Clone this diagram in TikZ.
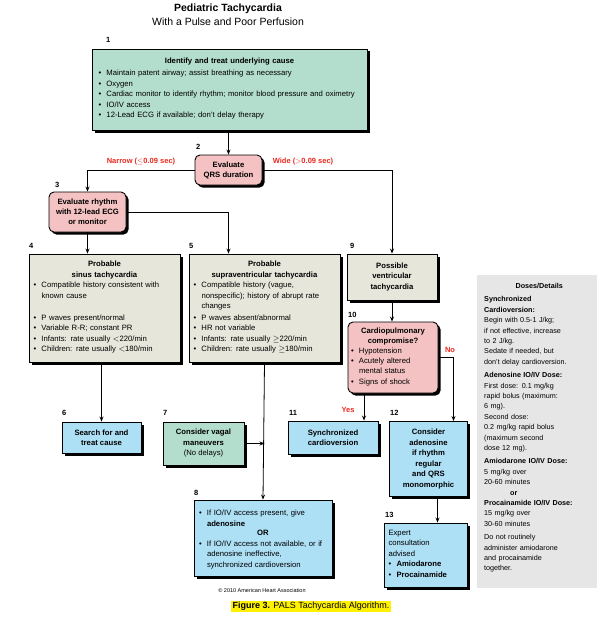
\documentclass[tikz,border=0pt]{standalone}
\usepackage{fontspec}
\setmainfont{Liberation Sans}
\usetikzlibrary{shadows,arrows.meta}
\definecolor{grn}{RGB}{179,221,204}
\definecolor{pnk}{RGB}{244,194,194}
\definecolor{bei}{RGB}{230,230,218}
\definecolor{blu}{RGB}{173,223,245}
\definecolor{gry}{RGB}{230,230,230}
\definecolor{red1}{RGB}{235,40,30}
\newcommand{\bi}[1]{\par\noindent\makebox[8pt][l]{\textbullet}\parbox[t]{\dimexpr\linewidth-8pt\relax}{\raggedright #1\strut}\par}
\begin{document}
\begin{tikzpicture}[x=1pt,y=-1pt,
 box/.style={draw=black,line width=0.9pt,align=center,inner sep=3pt,
   font=\fontsize{7.7}{10.5}\selectfont,
   general shadow={fill=black,shadow xshift=2.5pt,shadow yshift=-2.5pt}},
 rbox/.style={box,rounded corners=5pt},
 num/.style={font=\fontsize{7.5}{9}\selectfont\bfseries,anchor=west,inner sep=0},
 lab/.style={font=\fontsize{7.5}{9}\selectfont\bfseries,text=red1,inner sep=0},
 arr/.style={line width=0.8pt,-{Stealth[length=5pt,width=4pt]}}]
\useasboundingbox (0,0) rectangle (607,618);
\node[font=\fontsize{10.5}{12}\selectfont\bfseries] (t1) at (228,9) {Pediatric Tachycardia};
\node[font=\fontsize{10.5}{12}\selectfont] (t2) at (228,22) {With a Pulse and Poor Perfusion};

\node[num] (n1) at (106,40) {1};
\node[box,fill=grn,minimum width=275,minimum height=81,text width=262,align=left] (b1) at (229.5,89.5)
 {{\centering\textbf{Identify and treat underlying cause}\par}\vspace{2pt}
 \bi{Maintain patent airway; assist breathing as necessary}
 \bi{Oxygen}
 \bi{Cardiac monitor to identify rhythm; monitor blood pressure and oximetry}
 \bi{IO/IV access}
 \bi{12-Lead ECG if available; don't delay therapy}};

\node[num] (n2) at (196,147) {2};
\node[rbox,fill=pnk,minimum width=67,minimum height=30,font=\fontsize{7.7}{10}\selectfont\bfseries] (b2) at (228.5,170) {Evaluate\\QRS duration};
\node[lab] (l1) at (141,162) {Narrow ($\leq$0.09 sec)};
\node[lab] (l2) at (303,162) {Wide ($>$0.09 sec)};

\node[num] (n3) at (55,185) {3};
\node[rbox,fill=pnk,minimum width=77,minimum height=40,font=\fontsize{7.7}{10}\selectfont\bfseries] (b3) at (87.5,212) {Evaluate rhythm\\with 12-lead ECG\\or monitor};

\node[num] (n4) at (29,246) {4};
\node[box,fill=bei,minimum width=151,minimum height=108,text width=142,align=left] (b4) at (104.5,308)
 {{\centering\textbf{Probable\\sinus tachycardia}\par}
 \bi{Compatible history consistent with known cause}\vspace{10.5pt}
 \bi{P waves present/normal}
 \bi{Variable R-R; constant PR}
 \bi{Infants: rate usually $<$220/min}
 \bi{Children: rate usually $<$180/min}};

\node[num] (n5) at (189,246) {5};
\node[box,fill=bei,minimum width=151,minimum height=108,text width=142,align=left] (b5) at (264.5,308)
 {{\centering\textbf{Probable\\supraventricular tachycardia}\par}
 \bi{Compatible history (vague, nonspecific); history of abrupt rate changes}
 \bi{P waves absent/abnormal}
 \bi{HR not variable}
 \bi{Infants: rate usually $\geq$220/min}
 \bi{Children: rate usually $\geq$180/min}};

\node[num] (n9) at (350,246) {9};
\node[box,fill=bei,minimum width=90,minimum height=46,font=\fontsize{7.7}{10.5}\selectfont\bfseries] (b9) at (392,277) {Possible\\ventricular\\tachycardia};

\node[num] (n10) at (348,315) {10};
\node[rbox,fill=pnk,minimum width=90,minimum height=71,text width=84,align=left,font=\fontsize{7.7}{10}\selectfont] (b10) at (393,357.5)
 {{\centering\textbf{Cardiopulmonary\\compromise?}\par}
 \bi{Hypotension}
 \bi{Acutely altered mental status}
 \bi{Signs of shock}};

\node[num] (n6) at (62,413) {6};
\node[box,fill=blu,minimum width=79,minimum height=31,font=\fontsize{7.7}{10.5}\selectfont\bfseries] (b6) at (101.5,437.5) {Search for and\\treat cause};

\node[num] (n7) at (163,413) {7};
\node[box,fill=grn,minimum width=81,minimum height=43,font=\fontsize{7.7}{10.5}\selectfont] (b7) at (203.5,443.5) {\textbf{Consider vagal}\\\textbf{maneuvers}\\(No delays)};

\node[num] (n11) at (289,413) {11};
\node[box,fill=blu,minimum width=90,minimum height=33,font=\fontsize{7.7}{10.5}\selectfont\bfseries] (b11) at (333,437.5) {Synchronized\\cardioversion};
\node[lab] (l3) at (348,410) {Yes};
\node[lab] (l4) at (450,350) {No};

\node[num] (n12) at (390,413) {12};
\node[box,fill=blu,minimum width=78,minimum height=75,font=\fontsize{7.7}{10.5}\selectfont\bfseries] (b12) at (428.5,459) {Consider\\adenosine\\if rhythm\\regular\\and QRS\\monomorphic};

\node[num] (n13) at (385,515) {13};
\node[box,fill=blu,minimum width=83,minimum height=64,text width=74,align=left] (b13) at (425.5,555)
 {Expert\\consultation\\advised
 \bi{\textbf{Amiodarone}}
 \bi{\textbf{Procainamide}}};

\node[num] (n8) at (194,493) {8};
\node[box,fill=blu,minimum width=138,minimum height=76,text width=128,align=left] (b8) at (263,538)
 {\bi{If IO/IV access present, give \textbf{adenosine}}
 {\centering\textbf{OR}\par}
 \bi{If IO/IV access not available, or if adenosine ineffective, synchronized cardioversion}};

\node[fill=gry,minimum width=120,minimum height=313,inner sep=0] (dz) at (537,431.5) {};
\node[anchor=north west,text width=110,align=left,inner sep=0,font=\fontsize{7.2}{10.4}\selectfont] (dt) at (484,283)
 {{\centering\textbf{Doses/Details}\par}\vspace{3pt}\raggedright
 \textbf{Synchronized\\Cardioversion:}\\Begin with 0.5-1 J/kg;\\if not effective, increase\\to 2 J/kg.\\Sedate if needed, but\\don't delay cardioversion.\par\vspace{3pt}
 \textbf{Adenosine IO/IV Dose:}\\First dose: 0.1 mg/kg\\rapid bolus (maximum:\\6 mg).\\Second dose:\\0.2 mg/kg rapid bolus\\(maximum second\\dose 12 mg).\par\vspace{3pt}
 \textbf{Amiodarone IO/IV Dose:}\\5 mg/kg over\\20-60 minutes\\\hspace*{26pt}\textbf{or}\\\textbf{Procainamide IO/IV Dose:}\\15 mg/kg over\\30-60 minutes\par\vspace{3pt}
 Do not routinely\\administer amiodarone\\and procainamide\\together.};

\node[font=\fontsize{5.5}{7}\selectfont] (cp) at (262,591) {\textcopyright\ 2010 American Heart Association};
\node[fill=yellow,inner xsep=2pt,inner ysep=1.5pt,font=\fontsize{9}{11}\selectfont] (cap) at (311,606.5) {\textbf{Figure 3.} PALS Tachycardia Algorithm.};

% connectors
\draw[arr] (b2.north |- b1.south) -- (b2.north);
\draw[arr] (b2.west) -| (b3.north);
\draw[arr] (b2.east) -| (b9.north);
\draw[arr] (b3.east) -| ([xshift=-36]b5.north);
\draw[arr] (b3.south) -- (b3.south |- b4.north);
\draw[arr] (b6.north |- b4.south) -- (b6.north);
\draw[arr] (b5.south) -- (b8.north);
\draw[arr] (b7.east) -- (b7.east -| b5.south);
\draw[arr] (b9.south) -- (b9.south |- b10.north);
\draw[arr] ([xshift=-29]b10.south) -- ([xshift=-29]b10.south |- b11.north);
\draw[arr] (b10.east) -| ([xshift=25]b12.north);
\draw[arr] ([xshift=9]b12.south) -- ([xshift=9]b12.south |- b13.north);
\end{tikzpicture}
\end{document}
